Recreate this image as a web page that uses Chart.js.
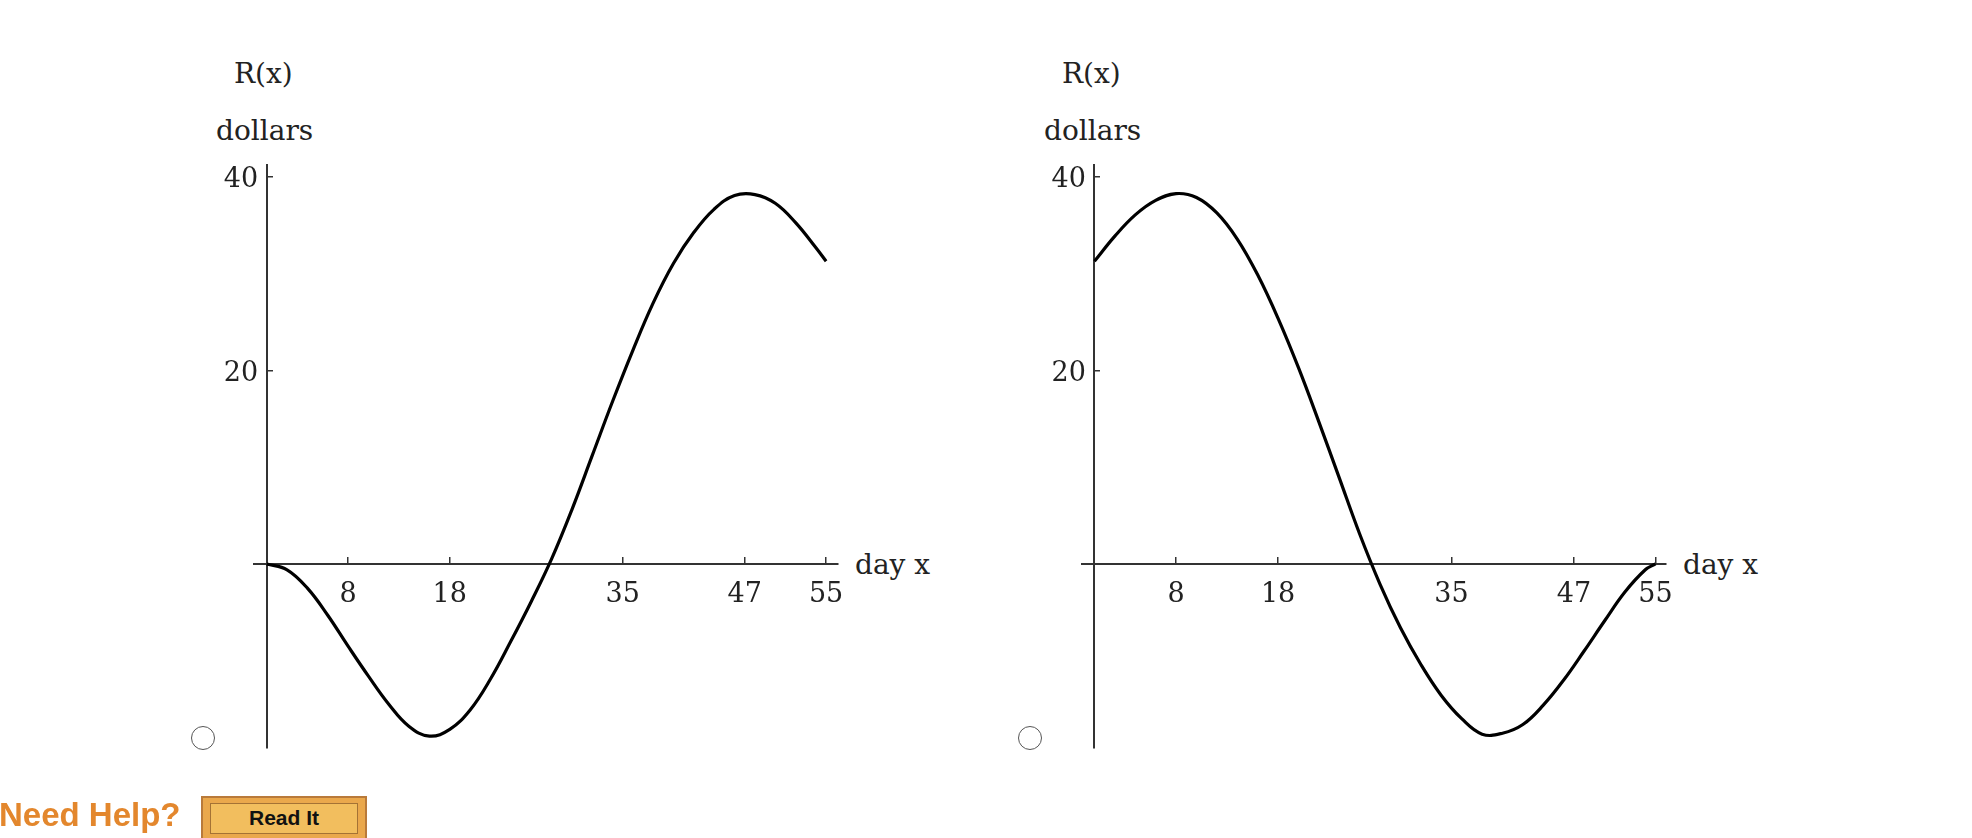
<!DOCTYPE html>
<html>
<head>
<meta charset="utf-8">
<script src="https://cdn.jsdelivr.net/npm/chart.js@4.4.1/dist/chart.umd.min.js"></script>
<style>
    html, body { margin: 0; padding: 0; background: #fff; }
    body { position: relative; width: 1972px; height: 838px; overflow: hidden; font-family: "DejaVu Serif", serif; }
    canvas.plot { position: absolute; top: 0; }
    .lbl { position: absolute; font-size: 28px; line-height: 28px; color: #222; white-space: nowrap; }
    .radio { position: absolute; width: 22px; height: 22px; border: 1.5px solid #555; border-radius: 50%; background: #fff; }
    #help { position: absolute; left: -1px; top: 796px; font: bold 33px "Liberation Sans", Arial, sans-serif; line-height: 37px; color: #e3872d; white-space: nowrap; }
    #readit { position: absolute; left: 201px; top: 796px; width: 162px; height: 40px; border: 2px solid #b97a3a; background: #eaa84c; }
    #readit div { position: absolute; left: 7px; top: 5px; right: 7px; bottom: 4px; border: 1.5px solid #a47235; background: #f2be5e;
        font: bold 21px "Liberation Sans", Arial, sans-serif; color: #111; text-align: center; line-height: 28px; }
</style>
</head>
<body>

<div class="lbl" style="left:234px; top:60px;">R(x)</div>
<div class="lbl" style="left:216px; top:117px;">dollars</div>
<div class="lbl" style="left:855px; top:551px;">day x</div>

<div class="lbl" style="left:1062px; top:60px;">R(x)</div>
<div class="lbl" style="left:1044px; top:117px;">dollars</div>
<div class="lbl" style="left:1683px; top:551px;">day x</div>

<canvas id="graphA" class="plot" width="986" height="838" style="left:0px;"></canvas>
<canvas id="graphB" class="plot" width="986" height="838" style="left:986px;"></canvas>

<div class="radio" style="left:191px; top:726px;"></div>
<div class="radio" style="left:1018px; top:726px;"></div>

<div id="help">Need Help?</div>
<div id="readit"><div>Read It</div></div>

<script>
var dayTicks = [8, 18, 35, 47, 55];
var dollarTicks = [20, 40];

// first graph: dips, then climbs to the top near day 47
var daysA = [0, 2, 4, 6, 8, 10, 12, 14, 16, 18, 20, 22, 24, 26, 28, 30, 32, 34, 36, 38, 40, 42, 44, 46, 48, 50, 52, 54, 55];
var revenueA = [0, -0.6, -2.5, -5.3, -8.5, -11.6, -14.5, -16.8, -17.8, -17.1, -15.1, -11.9, -8.0, -3.9, 0.5, 5.6, 11.2, 16.8, 22.1, 27.0, 31.1, 34.3, 36.7, 38.1, 38.2, 37.3, 35.3, 32.7, 31.3];

// second graph: peak near day 8, trough near day 39
var daysB = [0, 2, 4, 6, 8, 10, 12, 14, 16, 18, 20, 22, 24, 26, 28, 30, 32, 34, 36, 38, 40, 42, 44, 46, 48, 50, 52, 54, 55];
var revenueB = [31.3, 33.9, 36.1, 37.6, 38.3, 37.9, 36.3, 33.6, 29.9, 25.4, 20.3, 14.7, 8.9, 3.1, -2.1, -6.6, -10.4, -13.6, -16.0, -17.6, -17.5, -16.6, -14.6, -12.0, -9.0, -5.9, -2.9, -0.6, 0];

function makeGraph(id, days, revenue, pad, xMax) {
    var points = [];
    for (var i = 0; i < days.length; i++) {
        points.push({x: days[i], y: revenue[i]});
    }
    var ctx = document.getElementById(id).getContext('2d');
    return new Chart(ctx, {
        type: 'scatter',
        data: {
            datasets: [{
                data: points,
                showLine: true,
                borderColor: '#000',
                borderWidth: 3.2,
                pointRadius: 0,
                tension: 0.4
            }]
        },
        options: {
            responsive: false,
            animation: false,
            devicePixelRatio: 1,
            layout: {padding: pad},
            plugins: {legend: {display: false}, tooltip: {enabled: false}},
            scales: {
                x: {
                    type: 'linear',
                    position: {y: 0},
                    min: -1.25,
                    max: xMax,
                    afterBuildTicks: function (scale) {
                        scale.ticks = dayTicks.map(function (v) { return {value: v}; });
                    },
                    afterFit: function (scale) { scale.height = 0; },
                    border: {display: true, color: '#333', width: 2},
                    grid: {display: true, drawOnChartArea: false, drawTicks: true, tickLength: -8, color: '#333', lineWidth: 1.5},
                    ticks: {padding: 23, color: '#222', font: {family: 'DejaVu Serif', size: 27}, maxRotation: 0, autoSkip: false}
                },
                y: {
                    type: 'linear',
                    position: {x: 0},
                    min: -19.03,
                    max: 41.26,
                    afterBuildTicks: function (scale) {
                        scale.ticks = dollarTicks.map(function (v) { return {value: v}; });
                    },
                    afterFit: function (scale) { scale.width = 0; },
                    border: {display: true, color: '#333', width: 2},
                    grid: {display: true, drawOnChartArea: false, drawTicks: true, tickLength: -7, color: '#333', lineWidth: 1.5},
                    ticks: {
                        padding: 15,
                        labelOffset: 3,
                        color: '#222',
                        font: {family: 'DejaVu Serif', size: 27},
                        autoSkip: false,
                        // the space keeps the label clear of the axis line
                        callback: function (value) { return value + ' '; }
                    }
                }
            }
        }
    });
}

makeGraph('graphA', daysA, revenueA, {left: 254, right: 148.7, top: 165, bottom: 90}, 56.1);
makeGraph('graphB', daysB, revenueB, {left: 95.7, right: 306.3, top: 165, bottom: 90}, 56.0);
</script>
</body>
</html>
